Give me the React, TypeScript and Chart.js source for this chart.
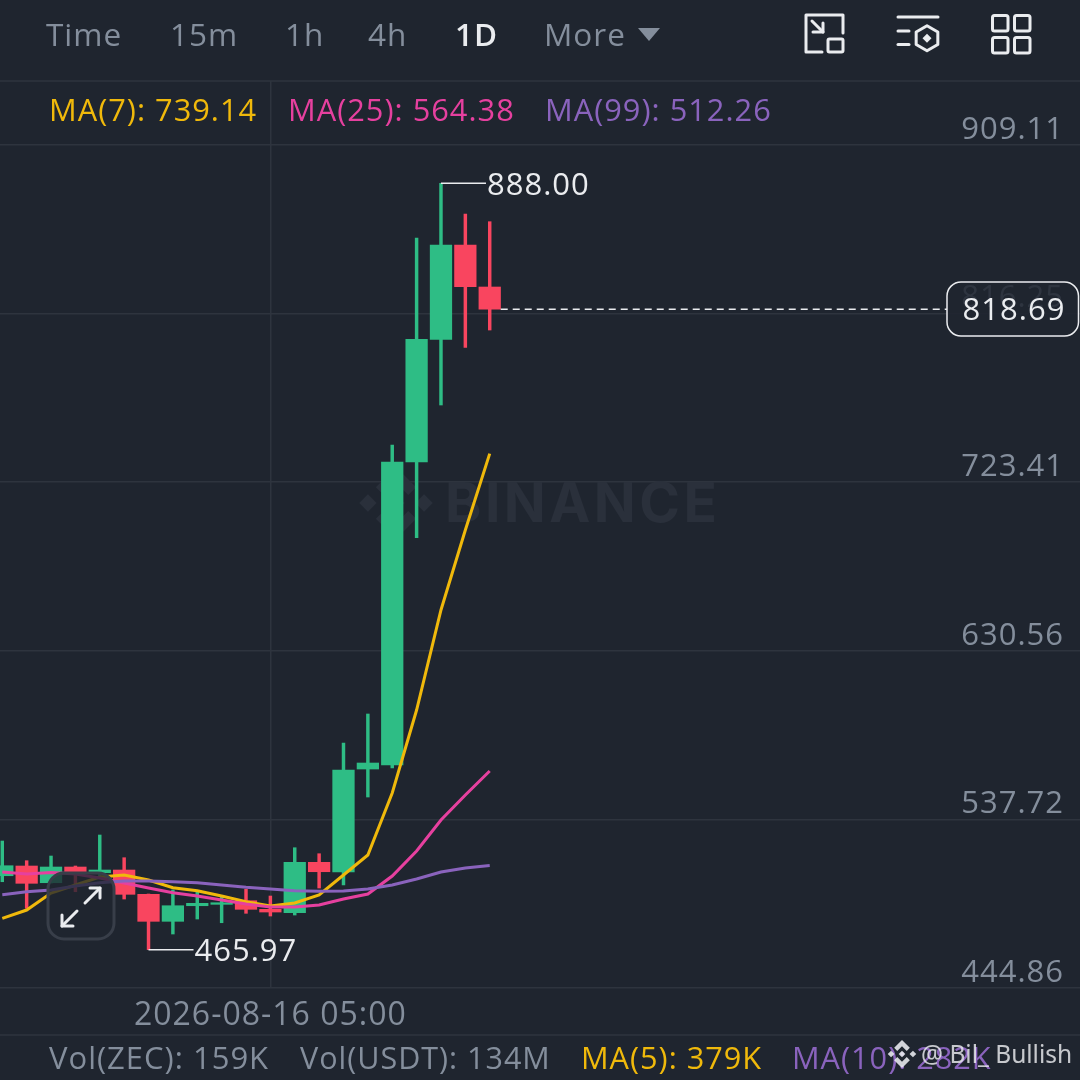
import React, { useEffect, useRef } from "react";
import { Chart, registerables } from "chart.js";

Chart.register(...registerables);

const dayIndex = [0, 1, 2, 3, 4, 5, 6, 7, 8, 9, 10, 11, 12, 13, 14, 15, 16, 17, 18, 19, 20];
const opens = [506.69, 512.04, 502.84, 511.49, 508.35, 509.83, 496.45, 481.58, 490.17, 490.94, 492.93, 488.19, 486.32, 514.07, 508.73, 565.46, 567.66, 734.53, 802.1, 854.03, 830.9];
const closes = [512.2, 502.51, 511.49, 508.35, 509.83, 496.45, 481.58, 490.17, 491.49, 491.82, 488.19, 486.7, 514.07, 508.9, 564.91, 568.76, 734.53, 802.1, 854.03, 831.07, 818.69];
const highs = [525.8, 514.96, 517.54, 512.04, 529.11, 516.61, 496.62, 498.82, 497.88, 494.96, 499.21, 495.51, 522.11, 518.81, 579.78, 595.75, 743.89, 857.89, 888.0, 871.11, 866.87];
const lows = [503.39, 488.74, 502.67, 497.88, 505.43, 493.86, 465.97, 474.59, 482.85, 480.81, 485.99, 484.5, 485.05, 499.92, 501.57, 550.04, 566.01, 692.84, 765.92, 797.69, 807.22];
const ma7 = [483.24, 487.8, 497.17, 501.57, 505.98, 507.08, 504.33, 500.08, 498.43, 495.51, 492.37, 490.01, 491.66, 496.07, 507.08, 518.09, 552.24, 597.95, 653.02, 697.08, 739.14];
const ma25 = [508.73, 507.63, 508.46, 507.63, 505.43, 502.67, 499.92, 497.33, 495.51, 493.31, 491.11, 489.46, 489.46, 490.56, 493.86, 496.62, 506.53, 520.3, 537.37, 551.14, 564.38];
const ma99 = [496.23, 497.88, 498.82, 501.02, 502.84, 503.78, 503.78, 503.39, 502.84, 501.57, 500.3, 499.37, 498.43, 498.1, 498.27, 499.37, 501.57, 504.88, 508.73, 510.94, 512.26];
const priceTicks = [444.86, 537.72, 630.56, 723.41, 816.25, 909.11];
const timeTickIndex = 11;
const timeTickLabel = "2026-08-16 05:00";
const highIndex = 18;
const lowIndex = 6;
const lastPrice = 818.69;
const intervals = ["Time", "15m", "1h", "4h", "1D", "More"];
const maLegend = ["MA(7): 739.14", "MA(25): 564.38", "MA(99): 512.26"];
const volLegend = ["Vol(ZEC): 159K", "Vol(USDT): 134M", "MA(5): 379K", "MA(10): 282K"];

const BG = "#1f252f";
const GRID = "#2e343e";
const MUTED = "#848e9c";
const WHITE = "#eaecef";
const GREEN = "#2ebd85";
const RED = "#f9455f";
const YELLOW = "#f0b90b";
const PINK = "#e6409f";
const PURPLE = "#8a63bd";
const FONT = "'Open Sans', 'Noto Sans', sans-serif";
const TRACK = 1;

function text(ctx: any, s: string, x: number, y: number, size: number, color: string, opt: any = {}) {
  ctx.save();
  ctx.font = `${opt.weight || 400} ${size}px ${opt.family || FONT}`;
  ctx.fillStyle = color;
  ctx.textAlign = opt.align || "left";
  ctx.textBaseline = "middle";
  ctx.letterSpacing = (opt.spacing ?? TRACK) + "px";
  ctx.fillText(s, x, y);
  ctx.restore();
}

function binanceLogo(ctx: any, cx: number, cy: number, r: number, color: string) {
  ctx.save();
  ctx.fillStyle = color;
  const d = r * 0.24;
  const diamond = (x: number, y: number, s: number) => {
    ctx.beginPath();
    ctx.moveTo(x, y - s);
    ctx.lineTo(x + s, y);
    ctx.lineTo(x, y + s);
    ctx.lineTo(x - s, y);
    ctx.closePath();
    ctx.fill();
  };
  diamond(cx, cy, d);
  diamond(cx - r * 0.78, cy, d);
  diamond(cx + r * 0.78, cy, d);
  const chevron = (dir: number) => {
    ctx.beginPath();
    ctx.moveTo(cx, cy + dir * r);
    ctx.lineTo(cx + r * 0.56, cy + dir * r * 0.44);
    ctx.lineTo(cx + r * 0.34, cy + dir * r * 0.22);
    ctx.lineTo(cx, cy + dir * r * 0.56);
    ctx.lineTo(cx - r * 0.34, cy + dir * r * 0.22);
    ctx.lineTo(cx - r * 0.56, cy + dir * r * 0.44);
    ctx.closePath();
    ctx.fill();
  };
  chevron(-1);
  chevron(1);
  ctx.restore();
}

const chromePlugin = {
  id: "chrome",
  beforeDraw(chart: any) {
    chart.ctx.letterSpacing = TRACK + "px";
  },
  beforeDatasetsDraw(chart: any) {
    const ctx = chart.ctx;
    binanceLogo(ctx, 396, 503, 36, "#2a303b");
    text(ctx, "BINANCE", 445, 505, 55, "#2a303b", { weight: 700, spacing: 3.5, family: "Inter" });
  },
  afterDraw(chart: any) {
    const ctx = chart.ctx;
    const { x, y } = chart.scales;
    // separators
    ctx.save();
    ctx.strokeStyle = GRID;
    ctx.lineWidth = 1.5;
    for (const ly of [81, 1035]) {
      ctx.beginPath();
      ctx.moveTo(0, ly);
      ctx.lineTo(1080, ly);
      ctx.stroke();
    }
    ctx.restore();

    // toolbar
    const xs = [46, 170, 285, 368, 455, 544];
    intervals.forEach((s, i) => {
      const active = s === "1D";
      text(ctx, s, xs[i], 37, 31.5, active ? WHITE : MUTED, { weight: active ? 600 : 400 });
    });
    ctx.save();
    ctx.fillStyle = MUTED;
    ctx.beginPath();
    ctx.moveTo(638, 28);
    ctx.lineTo(660, 28);
    ctx.lineTo(649, 41);
    ctx.closePath();
    ctx.fill();

    // toolbar icons
    ctx.strokeStyle = WHITE;
    ctx.fillStyle = WHITE;
    ctx.lineWidth = 3;
    ctx.lineJoin = "round";
    ctx.lineCap = "round";
    const path = (pts: number[][]) => {
      ctx.beginPath();
      pts.forEach((p, i) => (i ? ctx.lineTo(p[0], p[1]) : ctx.moveTo(p[0], p[1])));
      ctx.stroke();
    };
    path([[822, 52], [806, 52], [806, 15], [843, 15], [843, 33]]);
    ctx.beginPath();
    ctx.roundRect(828, 39, 15, 13, 1.5);
    ctx.stroke();
    path([[812, 21], [823, 32]]);
    path([[813, 32], [823, 32], [823, 23]]);
    path([[898, 17], [938, 17]]);
    path([[898, 31], [909, 31]]);
    path([[898, 44.5], [909, 44.5]]);
    const hx = 927, hy = 38.3, hr = 12.5;
    ctx.beginPath();
    for (let k = 0; k < 6; k++) {
      const a = -Math.PI / 2 + (k * Math.PI) / 3;
      const px = hx + hr * Math.cos(a);
      const py = hy + hr * Math.sin(a);
      k ? ctx.lineTo(px, py) : ctx.moveTo(px, py);
    }
    ctx.closePath();
    ctx.stroke();
    ctx.beginPath();
    ctx.moveTo(hx, hy - 4.5);
    ctx.lineTo(hx + 4.5, hy);
    ctx.lineTo(hx, hy + 4.5);
    ctx.lineTo(hx - 4.5, hy);
    ctx.closePath();
    ctx.fill();
    for (const gx of [992.5, 1014.5]) {
      for (const gy of [15.5, 37.5]) {
        ctx.beginPath();
        ctx.roundRect(gx, gy, 15.5, 15.5, 2);
        ctx.stroke();
      }
    }
    ctx.restore();

    // MA legend
    text(ctx, maLegend[0], 49, 112, 30.8, YELLOW);
    text(ctx, maLegend[1], 288, 112, 30.8, PINK);
    text(ctx, maLegend[2], 545, 112, 30.8, PURPLE);

    // high and low callouts
    ctx.save();
    ctx.strokeStyle = WHITE;
    ctx.lineWidth = 1.5;
    const hiY = y.getPixelForValue(highs[highIndex]);
    const hiX = x.getPixelForValue(highIndex);
    ctx.beginPath();
    ctx.moveTo(hiX, hiY);
    ctx.lineTo(hiX + 45, hiY);
    ctx.stroke();
    const loY = y.getPixelForValue(lows[lowIndex]);
    const loX = x.getPixelForValue(lowIndex);
    ctx.beginPath();
    ctx.moveTo(loX, loY);
    ctx.lineTo(loX + 45, loY);
    ctx.stroke();
    ctx.restore();
    text(ctx, highs[highIndex].toFixed(2), hiX + 46, hiY + 3, 31, WHITE);
    text(ctx, lows[lowIndex].toFixed(2), loX + 46, loY + 3, 31, WHITE);

    // last price
    const lastY = y.getPixelForValue(lastPrice);
    ctx.save();
    ctx.strokeStyle = WHITE;
    ctx.lineWidth = 1.5;
    ctx.setLineDash([7, 5]);
    ctx.beginPath();
    ctx.moveTo(x.getPixelForValue(20) + 11, lastY);
    ctx.lineTo(947, lastY);
    ctx.stroke();
    ctx.setLineDash([]);
    ctx.fillStyle = "rgba(31,37,47,0.85)";
    ctx.beginPath();
    ctx.roundRect(947, 282, 131.5, 54, 14);
    ctx.fill();
    ctx.stroke();
    ctx.restore();
    text(ctx, lastPrice.toFixed(2), 1014, 311.5, 31, WHITE, { align: "center" });

    // expand button
    ctx.save();
    ctx.fillStyle = "rgba(31,37,47,0.78)";
    ctx.strokeStyle = "#383e49";
    ctx.lineWidth = 3;
    ctx.beginPath();
    ctx.roundRect(48, 873, 66, 66, 16);
    ctx.fill();
    ctx.stroke();
    ctx.strokeStyle = WHITE;
    ctx.lineCap = "round";
    ctx.lineJoin = "round";
    ctx.lineWidth = 3;
    const arrow = (pts: number[][]) => {
      ctx.beginPath();
      pts.forEach((p, i) => (i ? ctx.lineTo(p[0], p[1]) : ctx.moveTo(p[0], p[1])));
      ctx.stroke();
    };
    arrow([[85, 903], [100, 888]]);
    arrow([[90, 888], [100, 888], [100, 898]]);
    arrow([[77, 911], [62, 926]]);
    arrow([[62, 915], [62, 926], [73, 926]]);
    ctx.restore();

    // volume legend
    text(ctx, volLegend[0], 49, 1060, 31, MUTED);
    text(ctx, volLegend[1], 300, 1060, 30.5, MUTED);
    text(ctx, volLegend[2], 581, 1060, 30.7, YELLOW);
    text(ctx, volLegend[3], 792, 1060, 30.7, PURPLE);

    // attribution
    binanceLogo(ctx, 902, 1054, 14, "rgba(235,237,240,0.88)");
    text(ctx, "@ Bil_ Bullish", 921, 1056, 24.5, "rgba(235,237,240,0.82)", { family: "'Noto Sans', sans-serif", spacing: 0 });
  },
};

export default function App() {
  const ref = useRef<HTMLCanvasElement>(null);
  useEffect(() => {
    document.body.style.margin = "0";
    document.body.style.background = BG;
    const isUp = (i: number) => closes[i] >= opens[i];
    const candleColors = dayIndex.map((i) => (isUp(i) ? GREEN : RED));
    const chart = new Chart(ref.current as HTMLCanvasElement, {
      type: "line",
      data: {
        labels: dayIndex,
        datasets: [
          {
            type: "bar",
            label: "Wick",
            data: dayIndex.map((i) => [lows[i], highs[i]]),
            backgroundColor: candleColors,
            barThickness: 2.8,
            grouped: false,
            order: 5,
          },
          {
            type: "bar",
            label: "Body",
            data: dayIndex.map((i) => [opens[i], closes[i]]),
            backgroundColor: candleColors,
            barThickness: 21.6,
            grouped: false,
            order: 4,
          },
          { type: "line", label: "MA(7)", data: ma7, borderColor: YELLOW, borderWidth: 3, pointRadius: 0, tension: 0, order: 3 },
          { type: "line", label: "MA(25)", data: ma25, borderColor: PINK, borderWidth: 3, pointRadius: 0, tension: 0, order: 2 },
          { type: "line", label: "MA(99)", data: ma99, borderColor: PURPLE, borderWidth: 3, pointRadius: 0, tension: 0, order: 1 },
        ],
      } as any,
      options: {
        responsive: false,
        animation: false,
        devicePixelRatio: 1,
        layout: { padding: { top: 81, left: 0, right: 0, bottom: 0 } },
        events: [],
        plugins: { legend: { display: false }, tooltip: { enabled: false } },
        scales: {
          x: {
            type: "linear",
            min: -0.094,
            max: 44.22,
            offset: false,
            border: { display: false },
            grid: { color: GRID, lineWidth: 1.5, offset: false, drawTicks: false },
            afterFit(scale: any) {
              scale.height = 92;
              scale.paddingLeft = 0;
              scale.paddingRight = 0;
            },
            afterBuildTicks(scale: any) {
              scale.ticks = [{ value: timeTickIndex }];
            },
            ticks: {
              autoSkip: false,
              maxRotation: 0,
              padding: 9,
              color: MUTED,
              font: { family: "Open Sans", size: 32 },
              callback: () => timeTickLabel,
            },
          },
          y: {
            type: "linear",
            position: "right",
            min: 444.86,
            max: 944.35,
            border: { display: false },
            grid: { color: GRID, lineWidth: 1.5, drawTicks: false },
            afterFit(scale: any) {
              scale.width = 0;
            },
            afterBuildTicks(scale: any) {
              scale.ticks = priceTicks.map((value) => ({ value }));
            },
            ticks: {
              mirror: true,
              autoSkip: false,
              padding: -16,
              labelOffset: -15,
              color: MUTED,
              font: { family: "Open Sans", size: 31 },
              callback: (v: any) => Number(v).toFixed(2),
            },
          },
        },
      } as any,
      plugins: [chromePlugin],
    });
    return () => chart.destroy();
  }, []);
  return <canvas ref={ref} width={1080} height={1080} style={{ position: "fixed", left: 0, top: 0, width: 1080, height: 1080, background: BG }} />;
}
